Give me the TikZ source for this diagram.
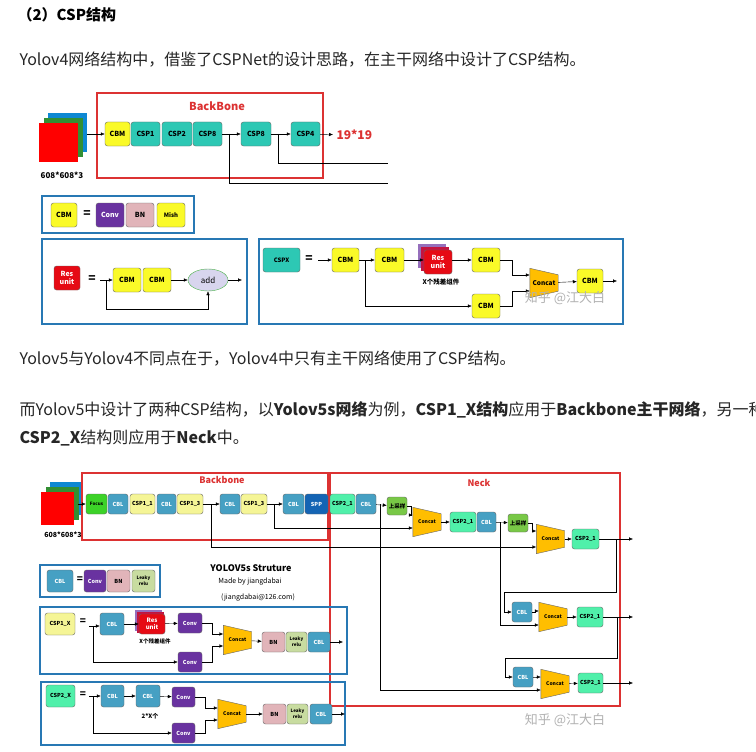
\documentclass[tikz,border=0pt]{standalone}
\usepackage{fontspec}
\setmainfont{Noto Sans CJK SC}
\usetikzlibrary{arrows.meta,positioning,calc,shapes.geometric}

\definecolor{cbmc}{RGB}{250,250,40}
\definecolor{cspc}{RGB}{45,200,180}
\definecolor{cblc}{RGB}{70,160,195}
\definecolor{convc}{RGB}{105,50,160}
\definecolor{bnc}{RGB}{225,180,185}
\definecolor{leakyc}{RGB}{200,220,160}
\definecolor{catc}{RGB}{255,190,0}
\definecolor{resc}{RGB}{230,10,20}
\definecolor{cspa}{RGB}{245,245,150}
\definecolor{cspb}{RGB}{80,240,170}
\definecolor{upc}{RGB}{120,200,70}
\definecolor{focc}{RGB}{60,210,40}
\definecolor{sppc}{RGB}{20,100,180}
\definecolor{boxc}{RGB}{40,120,180}
\definecolor{redbox}{RGB}{220,50,50}

\tikzset{
  blk/.style={draw=black!60, rounded corners=2.5pt, inner sep=0pt, minimum height=24,
    font=\bfseries\fontsize{7}{7}\selectfont},
  sblk/.style={blk, minimum height=20, font=\bfseries\fontsize{5.5}{5.5}\selectfont},
  cbm/.style={blk, fill=cbmc},
  csp/.style={blk, fill=cspc},
  cbl/.style={sblk, fill=cblc, text=white},
  conv/.style={sblk, fill=convc, text=white},
  bn/.style={sblk, fill=bnc},
  leaky/.style={sblk, fill=leakyc, align=center, font=\bfseries\fontsize{4.5}{4.5}\selectfont},
  res/.style={blk, fill=resc, text=white, align=center},
  cat/.style={minimum width=28, minimum height=29, inner sep=0pt},
  arr/.style={-{Latex[length=4pt,width=3.5pt]}, black},
  ln/.style={black},
  frame/.style={draw=boxc, line width=1.1pt},
  rframe/.style={draw=redbox, line width=1.1pt},
  para/.style={anchor=west, font=\fontsize{16}{16}\selectfont, text=black!85},
  wmark/.style={text=black!30, font=\fontsize{13}{13}\selectfont}
}

% Concat block: name, position, font size
\newcommand\catblk[3]{%
  \node[cat] (#1) at (#2) {};
  \filldraw[fill=catc, draw=black!60] (#1.north west)
    -- ($(#1.north east)!0.22!(#1.south east)$)
    -- ($(#1.south east)!0.22!(#1.north east)$)
    -- (#1.south west) -- cycle;
  \node[font=\bfseries\fontsize{#3}{#3}\selectfont] at (#1) {Concat};}

% image stack
\newcommand\imgstack[2]{%
  \fill[cyan!70!blue] ($(#1)+(9,-10)$) rectangle ++(#2,#2);
  \fill[green!45!black!80] ($(#1)+(5,-5)$) rectangle ++(#2,#2);
  \fill[red] (#1) rectangle ++(#2,#2);}

\begin{document}
\begin{tikzpicture}[x=1pt,y=-1pt]
  \useasboundingbox[fill=white] (0,0) rectangle (756,752);

  % text
  \node[anchor=west, font=\bfseries\fontsize{15}{15}\selectfont] (head) at (14,15) {（2）CSP结构};
  \node[para] (t1) at (16,60) {Yolov4网络结构中，借鉴了CSPNet的设计思路，在主干网络中设计了CSP结构。};
  \node[para] (t2) at (16,359) {Yolov5与Yolov4不同点在于，Yolov4中只有主干网络使用了CSP结构。};
  \node[para] (t3) at (16,410) {而Yolov5中设计了两种CSP结构，以\textbf{Yolov5s网络}为例，\textbf{CSP1\_X结构}应用于\textbf{Backbone主干网络}，另一种};
  \node[para] (t4) at (16,438) {\textbf{CSP2\_X}结构则应用于\textbf{Neck}中。};

  % ---------- Yolov4 ----------
  \imgstack{39,123}{39}
  \node[font=\bfseries\fontsize{8}{8}\selectfont] (sz1) at (62,175) {608*608*3};
  \draw[rframe] (97,93) rectangle (323,178);
  \node[text=redbox, font=\bfseries\fontsize{11}{11}\selectfont] (bbt) at (217,106) {BackBone};
  \coordinate (in1) at (87,134);
  \node[cbm, minimum width=25] (bb1) at (117.5,134) {CBM};
  \node[csp, minimum width=29] (bb2) at (145.5,134) {CSP1};
  \node[csp, minimum width=30] (bb3) at (177,134) {CSP2};
  \node[csp, minimum width=29] (bb4) at (207.5,134) {CSP8};
  \node[csp, minimum width=30] (bb5) at (256,134) {CSP8};
  \node[csp, minimum width=29] (bb6) at (305.5,134) {CSP4};
  \node[anchor=west, text=redbox, font=\bfseries\fontsize{12}{12}\selectfont] (s19) at (333,135) {19*19};
  \draw[arr] (in1) -- (bb1);
  \draw[arr] (bb4) -- (bb5);
  \draw[arr] (bb5) -- (bb6);
  \draw[arr] (bb6) -- (s19);
  \coordinate (br1) at (229,134);
  \coordinate (br2) at (278,134);
  \coordinate (e1) at (388,183);
  \coordinate (e2) at (388,163);
  \draw[ln] (br1) |- (e1);
  \draw[ln] (br2) |- (e2);

  % CBM legend
  \draw[frame] (42,196) rectangle (194,233);
  \node[cbm, minimum width=26] (lg1) at (64,215) {CBM};
  \node[font=\bfseries\fontsize{12}{12}\selectfont] (eq1) at (87,214) {=};
  \node[blk, fill=convc, text=white, minimum width=28] (lg2) at (110,215) {Conv};
  \node[blk, fill=bnc, minimum width=28] (lg3) at (140,215) {BN};
  \node[cbm, minimum width=28, font=\bfseries\fontsize{6}{6}\selectfont] (lg4) at (171,215) {Mish};

  % Res unit
  \draw[frame] (42,239) rectangle (247,324);
  \node[res, minimum width=26, font=\bfseries\fontsize{7}{8}\selectfont] (ru) at (67,278) {Res\\unit};
  \node[font=\bfseries\fontsize{12}{12}\selectfont] (eq2) at (92,279) {=};
  \coordinate (in3) at (100,280);
  \coordinate (br3) at (106,280);
  \node[cbm, minimum width=28] (k1) at (127,280) {CBM};
  \node[cbm, minimum width=28] (k2) at (157,280) {CBM};
  \node[ellipse, draw=green!40!gray, fill=cyan!15!blue!15, minimum width=40, minimum height=22, inner sep=0pt,
    font=\fontsize{8}{8}\selectfont] (add) at (208,280) {add};
  \coordinate (o3) at (242,280);
  \draw[arr] (in3) -- (k1);
  \draw[arr] (k2) -- (add);
  \draw[arr] (add) -- (o3);
  \draw[arr] (br3) -- ++(0,29) -| (add.south);

  % CSPX
  \draw[frame] (259,239) rectangle (623,324);
  \node[csp, minimum width=37, font=\bfseries\fontsize{6}{6}\selectfont] (cx) at (281.5,260) {CSPX};
  \node[font=\bfseries\fontsize{12}{12}\selectfont] (eq3) at (309,259) {=};
  \coordinate (in2) at (318,260);
  \node[cbm, minimum width=27] (m1) at (345.5,260) {CBM};
  \coordinate (brx) at (365,260);
  \node[cbm, minimum width=29] (m2) at (389.5,260) {CBM};
  \fill[convc!70] (418,244) rectangle (446,268);
  \fill[red!60!convc] (421,247) rectangle (449,271);
  \node[res, minimum width=28, font=\bfseries\fontsize{7}{8}\selectfont] (r2) at (438,262) {Res\\unit};
  \node[font=\bfseries\fontsize{6.5}{6.5}\selectfont] (xl1) at (441,282) {X个残差组件};
  \node[cbm, minimum width=28] (m3) at (486,260) {CBM};
  \node[cbm, minimum width=28] (m4) at (486,306) {CBM};
  \catblk{cat1}{544,283}{6.5}
  \node[cbm, minimum width=26] (m5) at (590,281) {CBM};
  \coordinate (o2) at (617,281);
  \draw[arr] (in2) -- (m1);
  \draw[arr] (m1) -- (m2);
  \draw[arr] (m2) -- (r2.west |- m2);
  \draw[arr] (r2.east |- m3) -- (m3);
  \draw[arr] (m3.east) -- ++(12,0) |- ($(cat1.west)+(0,-8)$);
  \draw[arr] (brx) |- (m4);
  \draw[arr] (m4.east) -- ++(12,0) |- ($(cat1.west)+(0,8)$);
  \draw[arr] (cat1) -- (m5);
  \draw[arr] (m5) -- (o2);
  \node[wmark] (wm1) at (565,298) {知乎 @江大白};

  % ---------- Yolov5s ----------
  \imgstack{41,492}{33}
  \node[font=\bfseries\fontsize{7}{7}\selectfont] (sz2) at (63,535) {608*608*3};
  \draw[rframe] (82,473) rectangle (328,540);
  \draw[rframe] (330,473) rectangle (620,706);
  \node[text=redbox, font=\bfseries\fontsize{9}{9}\selectfont] (bbt2) at (222,480) {Backbone};
  \node[text=redbox, font=\bfseries\fontsize{9}{9}\selectfont] (nkt) at (479,483) {Neck};
  \coordinate (in4) at (78,504);
  \node[sblk, fill=focc, minimum width=21, font=\bfseries\fontsize{4.5}{4.5}\selectfont] (fo) at (96.5,504) {Focus};
  \node[cbl, minimum width=20] (cb1) at (118,504) {CBL};
  \node[sblk, fill=cspa, minimum width=25] (cs1) at (142.5,504) {CSP1\_1};
  \node[cbl, minimum width=19] (cb2) at (166.5,504) {CBL};
  \node[sblk, fill=cspa, minimum width=26] (cs2) at (190,504) {CSP1\_3};
  \node[cbl, minimum width=20] (cb3) at (230,504) {CBL};
  \node[sblk, fill=cspa, minimum width=26] (cs3) at (254,504) {CSP1\_3};
  \node[cbl, minimum width=21] (cb4) at (293.5,504) {CBL};
  \node[sblk, fill=sppc, text=white, minimum width=23] (spp) at (316.5,504) {SPP};
  \node[sblk, fill=cspb, minimum width=25] (n1) at (342.5,504) {CSP2\_1};
  \node[cbl, minimum width=20] (n2) at (366,504) {CBL};
  \node[sblk, fill=upc, minimum width=20, minimum height=18] (up1) at (397,506) {上采样};
  \catblk{cat2}{427,522}{5}
  \node[sblk, fill=cspb, minimum width=26] (n3) at (463,522) {CSP2\_1};
  \node[cbl, minimum width=19] (n4) at (486.5,522) {CBL};
  \node[sblk, fill=upc, minimum width=20, minimum height=18] (up2) at (518,523) {上采样};
  \catblk{cat3}{550.5,539}{5}
  \node[sblk, fill=cspb, minimum width=27] (n5) at (585.5,539) {CSP2\_1};
  \node[cbl, minimum width=20] (n6) at (522,612) {CBL};
  \catblk{cat4}{553,617}{5}
  \node[sblk, fill=cspb, minimum width=26] (n7) at (590,617) {CSP2\_1};
  \node[cbl, minimum width=20] (n8) at (523,677) {CBL};
  \catblk{cat5}{555,684}{5}
  \node[sblk, fill=cspb, minimum width=25] (n9) at (590.5,683) {CSP2\_1};
  \coordinate (o5) at (633,539);
  \coordinate (o7) at (633,617);
  \coordinate (o9) at (633,683);
  \coordinate (b2) at (211,504);
  \coordinate (b3) at (274,504);
  \coordinate (b4) at (380,504);
  \coordinate (b5) at (500,522);
  \coordinate (b6) at (616,539);
  \coordinate (b7) at (617,617);
  \draw[arr] (in4) -- (fo);
  \draw[arr] (cs2) -- (cb3);
  \draw[arr] (cs3) -- (cb4);
  \draw[arr] (n2) -- (up1);
  \draw[arr] (cat2) -- (n3);
  \draw[arr] (n4) -- (up2);
  \draw[arr] (cat3) -- (n5);
  \draw[arr] (cat4) -- (n7);
  \draw[arr] (cat5) -- (n9);
  \draw[arr] (n5) -- (o5);
  \draw[arr] (n7) -- (o7);
  \draw[arr] (n9) -- (o9);
  \draw[arr] (up1.east) -- ++(4,0) |- ($(cat2.west)+(0,-7)$);
  \draw[arr] (up2.east) -- ++(4,0) |- ($(cat3.west)+(0,-8)$);
  \draw[arr] (b3) |- ($(cat2.west)+(0,6)$);
  \draw[arr] (b2) |- ($(cat3.west)+(0,8)$);
  \draw[arr] (b5) |- ($(cat4.west)+(0,8)$);
  \draw[arr] (b4) |- ($(cat5.west)+(0,6)$);
  \draw[arr] (b6) -- ++(0,53) -| ($(n6.west)+(-8,0)$) -- (n6.west);
  \draw[arr] (b7) -- ++(0,41) -| ($(n8.west)+(-8,0)$) -- (n8.west);
  \draw[arr] (n6.east) -- ++(3,0) |- ($(cat4.west)+(0,-6)$);
  \draw[arr] (n8.east) -- ++(3,0) |- ($(cat5.west)+(0,-7)$);

  \node[font=\bfseries\fontsize{9}{9}\selectfont] (ttl) at (251,568) {YOLOV5s Struture};
  \node[font=\fontsize{7}{7}\selectfont] (mb) at (250,582) {Made by jiangdabai};
  \node[font=\fontsize{7}{7}\selectfont] (ml) at (258,598) {(jiangdabai@126.com)};

  % CBL legend
  \draw[frame] (40,565) rectangle (160,597);
  \node[cbl, minimum width=26, minimum height=22] (lc1) at (60,581) {CBL};
  \node[font=\bfseries\fontsize{10}{10}\selectfont] (eq4) at (80,580) {=};
  \node[conv, minimum width=22, minimum height=22] (lc2) at (95,581) {Conv};
  \node[bn, minimum width=23, minimum height=22] (lc3) at (118.5,581) {BN};
  \node[leaky, minimum width=23, minimum height=22] (lc4) at (143.5,581) {Leaky\\relu};

  % CSP1_X
  \draw[frame] (40,607) rectangle (347,674);
  \node[sblk, fill=cspa, minimum width=30, minimum height=22] (p0) at (60,624) {CSP1\_X};
  \node[font=\bfseries\fontsize{10}{10}\selectfont] (eq5) at (83,622) {=};
  \coordinate (in5) at (89,626);
  \coordinate (b8) at (93,626);
  \node[cbl, minimum width=24, minimum height=22] (p1) at (112,624) {CBL};
  \fill[convc!70] (135,610) rectangle (162,631);
  \fill[red!60!convc] (137,612) rectangle (164,633);
  \node[res, minimum width=26, minimum height=20, font=\bfseries\fontsize{6}{6.5}\selectfont] (rs) at (152,624) {Res\\unit};
  \node[font=\bfseries\fontsize{5.5}{5.5}\selectfont] (xl2) at (155,641) {X个残差组件};
  \node[conv, minimum width=24] (p2) at (190,623) {Conv};
  \node[conv, minimum width=24] (p3) at (190,662) {Conv};
  \catblk{cat6}{237.5,640}{5}
  \node[bn, minimum width=23] (p4) at (273.5,642) {BN};
  \node[leaky, minimum width=21] (p5) at (296.5,642) {Leaky\\relu};
  \node[cbl, minimum width=22] (p6) at (319,642) {CBL};
  \coordinate (o6) at (343,642);
  \draw[arr] (in5) -- (p1.west |- in5);
  \draw[arr] (b8) |- (p3);
  \draw[arr] (p1) -- (rs);
  \draw[arr] (rs) -- (p2);
  \draw[arr] (p2.east) -- ++(10,0) |- ($(cat6.west)+(0,-6)$);
  \draw[arr] (p3.east) -- ++(10,0) |- ($(cat6.west)+(0,6)$);
  \draw[arr] (cat6) -- (p4);
  \draw[arr] (p6) -- (o6);

  % CSP2_X
  \draw[frame] (41,682) rectangle (345,745);
  \node[sblk, fill=cspb, minimum width=29, minimum height=22] (q0) at (60.5,696) {CSP2\_X};
  \node[font=\bfseries\fontsize{10}{10}\selectfont] (eq6) at (83,695) {=};
  \coordinate (in6) at (89,696);
  \coordinate (b9) at (93,696);
  \node[cbl, minimum width=23, minimum height=22] (q1) at (112.5,696) {CBL};
  \node[cbl, minimum width=24, minimum height=22] (q2) at (148,696) {CBL};
  \node[conv, minimum width=23] (q3) at (183.5,697) {Conv};
  \node[conv, minimum width=23] (q4) at (183.5,733) {Conv};
  \node[font=\bfseries\fontsize{6}{6}\selectfont] (xl3) at (150,716) {2*X个};
  \catblk{cat7}{232,714}{5}
  \node[bn, minimum width=23] (q5) at (274.5,714) {BN};
  \node[leaky, minimum width=21] (q6) at (297.5,714) {Leaky\\relu};
  \node[cbl, minimum width=22] (q7) at (321,714) {CBL};
  \coordinate (o8) at (345,714);
  \draw[arr] (in6) -- (q1);
  \draw[arr] (b9) |- (q4);
  \draw[arr] (q1) -- (q2);
  \draw[arr] (q2) -- (q3);
  \draw[arr] (q3.east) -- ++(10,0) |- ($(cat7.west)+(0,-6)$);
  \draw[arr] (q4.east) -- ++(10,0) |- ($(cat7.west)+(0,6)$);
  \draw[arr] (cat7) -- (q5);
  \draw[arr] (q7) -- (o8);
  \node[wmark] (wm2) at (565,720) {知乎 @江大白};
\end{tikzpicture}
\end{document}
